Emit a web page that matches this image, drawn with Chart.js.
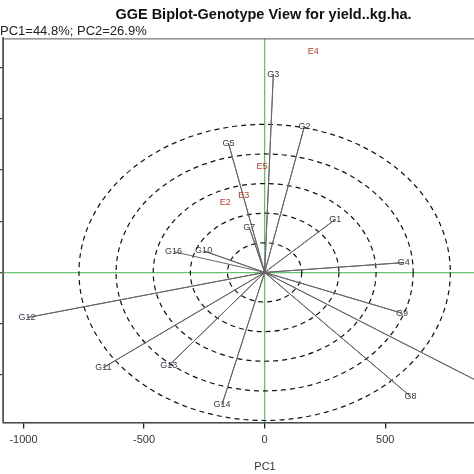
<!DOCTYPE html>
<html>
<head>
<meta charset="utf-8">
<script src="https://cdn.jsdelivr.net/npm/chart.js@4.4.0/dist/chart.umd.min.js"></script>
<style>
html, body { margin: 0; padding: 0; overflow: hidden; background: #fff; width: 474px; height: 474px; }
canvas { display: block; }
</style>
</head>
<body>
<canvas id="biplot" width="527" height="474"></canvas>
<script>
// Genotype scores (PC1, PC2)
const genotypes = ['G1', 'G2', 'G3', 'G4', 'G5', 'G6', 'G7', 'G8', 'G9', 'G10', 'G11', 'G12', 'G13', 'G14', 'G16'];
const genoPC1 = [293, 165, 36, 577, -150, 895, -64, 605, 570, -253, -669, -985, -398, -177, -378];
const genoPC2 = [276, 760, 1030, 51, 672, -573, 235, -645, -212, 112, -495, -235, -485, -688, 108];

// Environment scores (labels only)
const environments = ['E2', 'E3', 'E4', 'E5'];
const envPC1 = [-163, -87, 202, -11];
const envPC2 = [362, 402, 1147, 552];

// Concentric circle radii (PC units)
const ringRadii = [154, 308, 462, 616, 770];

const xTicks = [-1000, -500, 0, 500];

// vectors from origin: origin -> G1 -> origin -> G2 ...
let vectorData = [];
genotypes.forEach((g, i) => {
    vectorData.push({ x: 0, y: 0 });
    vectorData.push({ x: genoPC1[i], y: genoPC2[i] });
});

let envData = environments.map((e, i) => ({ x: envPC1[i], y: envPC2[i] }));

const FONT = '"Liberation Sans", Arial, sans-serif';

// Draw dashed rings around the origin
const ringsPlugin = {
    id: 'rings',
    beforeDatasetsDraw(chart) {
        const { ctx, chartArea, scales: { x, y } } = chart;
        const cx = x.getPixelForValue(0);
        const cy = y.getPixelForValue(0);
        ctx.save();
        ctx.beginPath();
        ctx.rect(chartArea.left, chartArea.top, chartArea.right - chartArea.left, chartArea.bottom - chartArea.top);
        ctx.clip();
        ctx.strokeStyle = '#111';
        ctx.lineWidth = 1.2;
        ctx.setLineDash([5, 4]);
        ringRadii.forEach(r => {
            const rx = x.getPixelForValue(r) - cx;
            const ry = cy - y.getPixelForValue(r);
            ctx.beginPath();
            ctx.ellipse(cx, cy, rx, ry, 0, 0, Math.PI * 2);
            ctx.stroke();
        });
        ctx.restore();
    }
};

// Text labels for genotypes and environments
const labelsPlugin = {
    id: 'pointLabels',
    afterDatasetsDraw(chart) {
        const { ctx, scales: { x, y } } = chart;
        ctx.save();
        ctx.font = '9px ' + FONT;
        ctx.textAlign = 'center';
        ctx.textBaseline = 'middle';
        ctx.fillStyle = '#3a3a4a';
        genotypes.forEach((g, i) => {
            ctx.fillText(g, x.getPixelForValue(genoPC1[i]), y.getPixelForValue(genoPC2[i]));
        });
        ctx.fillStyle = '#c0392b';
        environments.forEach((e, i) => {
            ctx.fillText(e, x.getPixelForValue(envPC1[i]), y.getPixelForValue(envPC2[i]));
        });
        ctx.restore();
    }
};

// Box around the plot area
const framePlugin = {
    id: 'frame',
    afterDraw(chart) {
        const { ctx, chartArea } = chart;
        ctx.save();
        ctx.strokeStyle = '#555';
        ctx.lineWidth = 1;
        ctx.strokeRect(chartArea.left + 0.5, chartArea.top + 0.5,
            chartArea.right - chartArea.left, chartArea.bottom - chartArea.top);
        ctx.restore();
    }
};

const zeroLine = c => (c.tick && c.tick.value === 0) ? '#6cc070' : 'rgba(0,0,0,0)';

let ctx = document.getElementById('biplot').getContext('2d');
let biplot = new Chart(ctx, {
    type: 'scatter',
    data: {
        datasets: [
            {
                label: 'Genotypes',
                data: vectorData,
                showLine: true,
                borderColor: '#666',
                borderWidth: 1,
                pointRadius: 0,
                fill: false
            },
            {
                label: 'Environments',
                data: envData,
                pointRadius: 0
            }
        ]
    },
    options: {
        responsive: false,
        animation: false,
        layout: { padding: 0 },
        plugins: {
            legend: { display: false },
            tooltip: { enabled: false },
            title: {
                display: true,
                text: 'GGE Biplot-Genotype View for yield..kg.ha.',
                color: '#111',
                font: { family: FONT, size: 14.5, weight: 'bold', lineHeight: 1.2 },
                padding: { top: 6, bottom: 0 }
            },
            subtitle: {
                display: true,
                text: 'PC1=44.8%; PC2=26.9%',
                align: 'start',
                color: '#222',
                font: { family: FONT, size: 13, lineHeight: 1 },
                padding: { top: 2, bottom: 0 }
            }
        },
        scales: {
            x: {
                type: 'linear',
                min: -1085,
                max: 1088,
                afterBuildTicks: axis => { axis.ticks = xTicks.map(v => ({ value: v })); },
                ticks: {
                    includeBounds: false,
                    color: '#333',
                    padding: 5,
                    font: { family: FONT, size: 11 },
                    callback: v => String(v)
                },
                grid: { color: zeroLine, lineWidth: 1.3, tickColor: '#222', tickLength: 6 },
                border: { display: true, color: '#444' },
                title: {
                    display: true,
                    text: 'PC1',
                    color: '#333',
                    font: { family: FONT, size: 11 },
                    padding: { top: 9, bottom: 0 }
                }
            },
            y: {
                type: 'linear',
                min: -781,
                max: 1217,
                ticks: { display: false, stepSize: 266, includeBounds: false },
                grid: { color: zeroLine, lineWidth: 1.3, tickColor: '#444', tickLength: 3 },
                border: { display: true, color: '#777', width: 2 }
            }
        }
    },
    plugins: [ringsPlugin, labelsPlugin, framePlugin]
});
</script>
</body>
</html>
